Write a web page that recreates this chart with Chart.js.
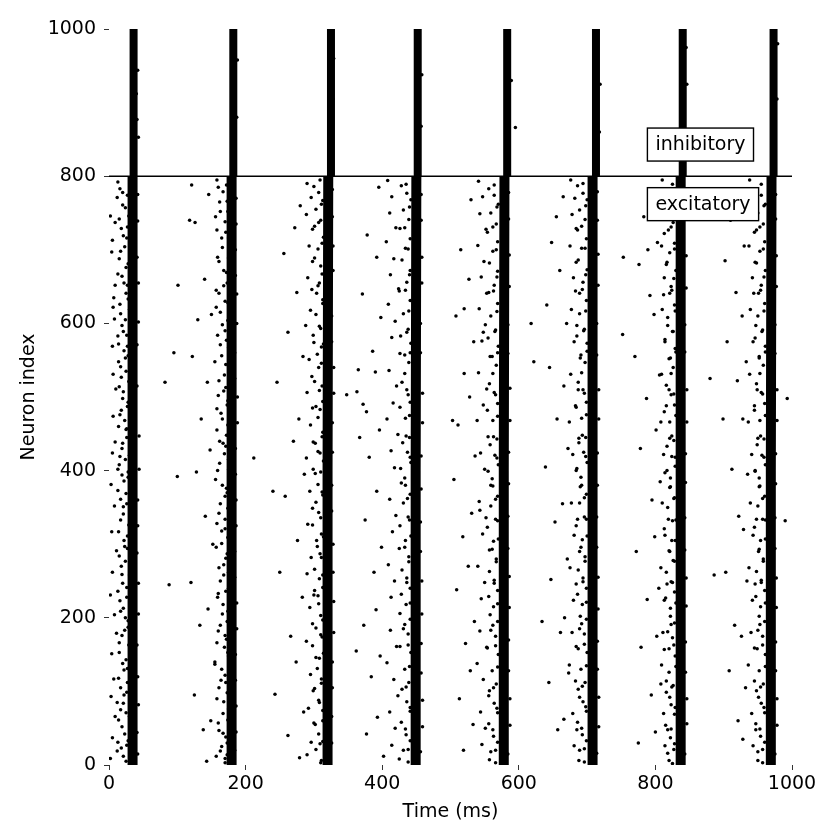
<!DOCTYPE html>
<html>
<head>
<meta charset="utf-8">
<script src="https://cdn.jsdelivr.net/npm/chart.js@4.4.1/dist/chart.umd.min.js"></script>
<style>html,body{margin:0;padding:0;background:#fff}</style>
</head>
<body>
<canvas id="raster" width="840" height="840"></canvas>
<script>
// tick values
const xTickValues = [0, 200, 400, 600, 800, 1000];
const yTickValues = [0, 200, 400, 600, 800, 1000];

// dense part of each population burst: [time ms, neuron index] along the stripe
const excCoreLines = [
    [[35, 0], [35, 400], [34, 800]],
    [[180, 0], [179, 400], [180, 800]],
    [[320, 0], [320, 400], [321, 800]],
    [[449, 0], [449, 400], [450, 800]],
    [[578, 0], [578, 400], [579, 800]],
    [[708, 0], [708, 400], [708, 800]],
    [[837, 0], [837, 400], [837, 800]],
    [[969, 0], [969, 400], [970, 800]],
];
const inhCoreLines = [
    [[36, 800], [36, 1000]],
    [[182, 800], [182, 1000]],
    [[325, 800], [325, 1000]],
    [[452, 800], [452, 1000]],
    [[583, 800], [583, 1000]],
    [[713, 800], [713, 1000]],
    [[840, 800], [840, 1000]],
    [[973, 800], [973, 1000]],
];

// single spikes around each burst: [time ms, neuron index]
const burst1Spikes = [
    [2,746],[5,713],[9,737],[4,697],[12,771],[9,652],[7,635],[6,622],[8,606],[5,569],[6,531],[10,511],[6,474],[9,439],[5,424],[3,381],[8,352],[4,317],[11,291],[5,262],[2,231],[8,204],[11,179],[4,151],[7,117],[3,93],[9,66],[5,37],[12,19],[2,9],[14,548],[13,402],[12,85],
    [16,783],[20,761],[18,729],[23,704],[15,688],[19,664],[25,641],[17,613],[21,589],[14,572],[24,553],[18,527],[20,498],[16,476],[25,456],[19,430],[15,408],[22,386],[17,361],[21,341],[14,317],[23,297],[18,270],[20,247],[16,223],[24,200],[19,176],[15,153],[22,129],[17,105],[21,84],[14,61],[23,42],[18,23],[25,5],
    [27,774],[29,746],[26,716],[28,681],[27,652],[30,619],[26,584],[28,556],[29,521],[27,487],[26,457],[30,421],[28,391],[26,355],[29,326],[27,294],[30,258],[26,228],[28,196],[29,163],[27,131],[26,99],[30,66],[28,33],
    [42,775],[41,690],[43,602],[41,515],[44,447],[42,360],[41,288],[43,205],[42,120],[41,44],
    [42,944],[41,877],[43,853],[40,912],
];
const burst1Band = [
    [13,792],[20,778],[24,757],[15,742],[27,731],[21,719],[17,698],[25,676],[13,667],[22,655],[28,633],[16,626],[24,605],[19,597],[13,583],[27,569],[22,563],[17,541],[25,535],[15,514],[21,507],[28,493],[18,482],[23,468],[14,460],[26,445],[20,437],[16,419],[24,415],[28,398],[19,394],[13,373],[25,369],[21,351],[17,333],[27,311],[22,305],[15,284],[24,277],[19,259],[26,241],[13,236],[21,213],[17,209],[28,187],[23,183],[15,166],[25,143],[20,138],[14,118],[27,112],[22,95],[17,75],[25,71],[19,52],[13,31],[26,27],[21,12],
    [42,739],[43,655],[41,571],[44,402],[42,325],[43,247],[41,163],[43,82],[42,15],
];
const burst2Spikes = [
    [95,560],[118,740],[121,788],[126,737],[130,605],[122,555],[140,660],[135,470],[128,398],[141,338],[120,248],[133,190],[125,95],[138,48],[146,775],[150,612],[144,520],[148,428],[152,300],[145,212],[155,140],[149,60],[143,5],
    [158,795],[162,765],[156,745],[165,716],[159,690],[168,672],[161,641],[157,622],[166,598],[163,571],[155,548],[169,530],[160,502],[164,478],[158,455],[167,437],[162,410],[156,388],[170,365],[161,342],[165,318],[157,296],[168,272],[163,250],[159,228],[166,205],[160,182],[169,160],[155,137],[164,115],[158,90],[167,70],[161,47],[165,25],[157,12],[170,3],
    [172,788],[174,752],[171,724],[175,689],[173,655],[170,630],[174,604],[172,577],[175,541],[171,513],[173,489],[174,462],[171,433],[175,401],[172,376],[174,349],[170,321],[173,287],[175,262],[171,236],[174,209],[172,171],[175,148],[170,122],[173,98],[174,61],[171,38],[173,14],
    [186,770],[185,700],[187,640],[184,560],[188,500],[185,430],[186,360],[184,290],[187,220],[185,150],[186,80],[184,20],
    [188,958],[187,880],
];
const burst2Band = [
    [160,785],[167,779],[173,766],[163,752],[170,738],[158,727],[175,716],[166,703],[161,684],[172,669],[168,651],[157,645],[174,628],[163,615],[170,590],[159,584],[175,567],[165,556],[171,544],[161,522],[168,508],[174,495],[158,484],[166,470],[172,448],[162,440],[169,423],[175,415],[159,400],[166,380],[173,370],[163,355],[170,334],[158,328],[174,309],[165,301],[171,281],[161,268],[168,258],[175,240],[160,233],[167,218],[173,195],[163,190],[170,176],[158,166],[174,153],[165,130],[171,112],[161,105],[168,86],[175,76],[160,57],[167,43],[173,30],[163,19],[170,9],
    [186,735],[185,665],[187,600],[184,525],[188,465],[185,395],[186,325],[184,255],[187,185],[185,115],[186,45],
];
const burst3Spikes = [
    [272,730],[256,695],[262,588],[246,520],[270,440],[258,365],[250,262],[266,175],[243,96],[262,40],[280,760],[275,642],[284,555],[278,470],[286,395],[276,305],[283,228],[274,140],[285,72],[279,10],
    [290,790],[296,771],[289,748],[301,732],[293,705],[298,684],[291,662],[304,641],[295,618],[288,597],[300,574],[293,551],[297,528],[290,506],[303,487],[295,462],[299,439],[289,417],[302,396],[294,372],[298,349],[291,327],[304,305],[296,282],[290,260],[301,237],[294,214],[298,192],[289,168],[303,146],[295,123],[299,101],[292,77],[302,55],[296,31],[290,14],
    [309,795],[311,762],[307,737],[312,709],[310,678],[306,651],[313,627],[308,596],[311,568],[307,540],[312,515],[309,483],[313,452],[306,426],[310,398],[312,371],[307,343],[311,314],[309,287],[313,258],[306,230],[310,203],[312,174],[308,145],[311,117],[307,88],[313,60],[309,29],[311,6],
    [327,782],[328,705],[326,610],[329,540],[327,465],[326,380],[328,300],[329,222],[327,140],[326,66],
    [328,905],[327,850],[329,960],
];
const burst3Band = [
    [300,786],[307,778],[313,767],[303,755],[310,740],[298,728],[314,717],[306,701],[301,689],[312,667],[308,655],[297,646],[313,632],[303,612],[310,593],[299,584],[314,572],[305,558],[311,546],[301,521],[308,509],[313,494],[298,485],[306,472],[312,446],[302,437],[309,424],[314,413],[299,402],[306,381],[313,367],[303,357],[310,336],[298,326],[314,310],[305,297],[311,282],[301,266],[308,253],[313,241],[300,231],[307,219],[313,197],[303,186],[310,177],[298,162],[314,152],[305,131],[311,111],[301,104],[308,85],[313,74],[300,57],[307,42],[313,32],[303,21],[310,3],
    [327,745],[328,672],[326,575],[329,505],[327,425],[326,345],[328,262],[329,180],[327,105],[326,30],
];
const burst4Spikes = [
    [378,720],[371,640],[386,562],[372,490],[381,418],[375,333],[388,262],[373,190],[384,120],[377,42],[395,785],[392,690],[398,608],[390,534],[396,455],[392,372],[399,296],[391,211],[397,148],[393,65],[367,445],[402,12],
    [408,794],[414,772],[411,750],[420,730],[406,711],[417,688],[412,666],[424,647],[409,626],[419,603],[414,581],[426,559],[410,536],[421,515],[416,492],[407,470],[423,449],[413,427],[418,404],[428,383],[411,361],[420,339],[415,317],[425,294],[409,272],[418,250],[413,228],[426,206],[412,183],[421,161],[407,139],[417,116],[423,94],[411,72],[419,50],[414,27],[425,8],
    [435,789],[440,758],[433,730],[438,701],[441,672],[434,645],[439,617],[436,588],[441,560],[433,532],[438,503],[440,475],[435,447],[441,418],[433,390],[437,362],[440,333],[434,305],[439,276],[436,248],[441,220],[433,191],[438,163],[440,134],[435,106],[441,78],[434,49],[438,21],
    [457,775],[458,690],[456,600],[459,505],[457,420],[456,330],[458,250],[457,165],[459,88],[456,18],
    [458,938],[457,868],
];
const burst4Band = [
    [428,787],[436,777],[442,768],[431,754],[439,741],[426,729],[441,715],[434,702],[429,686],[440,666],[436,656],[425,644],[441,631],[431,613],[438,592],[427,583],[442,573],[433,557],[439,547],[429,520],[436,510],[441,493],[426,486],[434,471],[440,445],[430,438],[437,425],[442,411],[427,403],[434,380],[441,368],[431,356],[438,337],[426,325],[442,311],[433,296],[439,283],[429,265],[436,254],[441,240],[428,232],[435,218],[441,198],[431,185],[438,178],[426,161],[442,153],[433,130],[439,112],[429,103],[436,86],[441,73],[428,58],[435,41],[441,33],[431,20],[438,4],
    [457,740],[458,655],[456,560],[459,465],[457,375],[456,290],[458,205],[457,125],[459,52],
];
const burst5Spikes = [
    [515,700],[508,610],[520,532],[511,462],[505,388],[518,310],[509,238],[522,165],[513,90],[519,20],[530,768],[527,660],[534,575],[528,500],[536,420],[531,342],[526,270],[535,195],[529,128],[533,55],[548,588],[543,346],
    [541,793],[547,772],[543,749],[552,728],[540,706],[549,684],[545,663],[556,642],[542,620],[551,598],[546,576],[558,555],[541,533],[553,511],[548,489],[539,468],[555,446],[544,424],[550,402],[559,380],[542,358],[552,336],[547,314],[557,292],[540,270],[550,248],[545,226],[558,204],[543,182],[553,160],[539,138],[548,116],[556,94],[544,72],[551,50],[546,28],[557,7],
    [564,788],[568,758],[562,731],[567,700],[569,671],[563,644],[568,616],[565,589],[569,560],[562,532],[566,503],[569,474],[563,446],[568,417],[561,389],[566,361],[569,332],[563,304],[567,276],[564,247],[569,219],[562,190],[566,162],[569,133],[563,105],[568,77],[562,48],[566,20],
    [585,778],[586,693],[584,598],[587,512],[585,425],[584,338],[586,256],[585,170],[587,90],[584,15],
    [595,866],[589,930],
];
const burst5Band = [
    [556,783],[564,774],[570,762],[559,750],[567,735],[554,724],[569,711],[562,698],[557,682],[568,663],[564,652],[553,641],[569,627],[559,610],[566,591],[555,580],[570,569],[561,555],[567,543],[557,518],[564,506],[569,491],[554,482],[562,468],[568,443],[558,435],[565,421],[570,408],[555,399],[562,379],[569,365],[559,352],[566,334],[554,323],[570,307],[561,293],[567,280],[557,263],[564,251],[569,237],[556,229],[563,215],[569,195],[559,183],[566,175],[554,159],[570,150],[561,128],[567,110],[557,101],[564,84],[569,71],[556,56],[563,39],[569,31],[559,18],[566,3],
    [585,742],[586,650],[584,559],[587,468],[585,382],[584,294],[586,214],[585,128],[587,54],
];
const burst6Spikes = [
    [655,745],[648,710],[641,625],[660,672],[645,540],[656,470],[639,405],[653,330],[647,252],[661,180],[644,112],[657,48],[665,772],[670,600],[666,515],[672,430],[664,355],[671,280],[667,200],[673,125],[666,62],[634,195],
    [676,795],[682,770],[678,748],[686,727],[675,705],[684,683],[680,662],[689,641],[677,619],[685,597],[681,575],[690,553],[676,531],[687,510],[683,488],[674,466],[688,444],[679,422],[684,400],[690,378],[677,356],[686,334],[681,312],[689,290],[675,268],[684,246],[680,224],[690,202],[678,180],[687,158],[674,136],[683,114],[689,92],[679,70],[685,48],[681,26],[688,6],
    [694,790],[698,760],[692,732],[697,702],[700,673],[693,646],[698,617],[695,590],[700,562],[692,533],[696,505],[699,476],[693,448],[698,419],[691,391],[696,363],[699,334],[693,306],[697,277],[694,249],[699,221],[692,192],[696,164],[699,135],[693,107],[698,79],[692,50],[696,22],
    [715,779],[716,694],[714,600],[717,510],[715,424],[714,337],[716,255],[715,168],[717,92],[714,16],
    [719,925],[718,860],
];
const burst6Band = [
    [686,787],[694,777],[700,768],[689,754],[697,741],[684,729],[699,715],[692,702],[687,686],[698,666],[694,656],[683,644],[699,631],[689,613],[696,592],[685,583],[700,573],[691,557],[697,547],[687,520],[694,510],[699,493],[684,486],[692,471],[698,445],[688,438],[695,425],[700,411],[685,403],[692,380],[699,368],[689,356],[696,337],[684,325],[700,311],[691,296],[697,283],[687,265],[694,254],[699,240],[686,232],[693,218],[699,198],[689,185],[696,178],[684,161],[700,153],[691,130],[697,112],[687,103],[694,86],[699,73],[686,58],[693,41],[699,33],[689,20],[696,4],
    [715,740],[716,652],[714,557],[717,470],[715,380],[714,296],[716,212],[715,130],[717,52],
];
const burst7Spikes = [
    [783,745],[776,680],[792,638],[770,555],[787,498],[778,430],[795,360],[772,290],[788,225],[779,160],[794,95],[775,30],[800,772],[803,710],[798,612],[806,530],[801,455],[807,385],[799,310],[805,240],[802,175],[808,110],[800,45],
    [810,795],[815,770],[811,748],[819,727],[809,705],[817,683],[813,662],[821,641],[810,619],[818,597],[814,575],[822,553],[809,531],[820,510],[816,488],[808,466],[821,444],[812,422],[817,400],[822,378],[810,356],[819,334],[814,312],[821,290],[808,268],[817,246],[813,224],[822,202],[811,180],[820,158],[809,136],[816,114],[821,92],[812,70],[818,48],[814,26],[820,6],
    [825,789],[829,760],[823,731],[828,701],[830,672],[824,645],[829,617],[826,589],[830,561],[823,532],[827,504],[830,475],[824,447],[829,418],[822,390],[827,362],[830,333],[824,305],[828,277],[825,248],[830,220],[823,191],[827,163],[830,134],[824,106],[829,78],[823,49],[827,21],
    [844,775],[845,692],[843,598],[846,510],[844,423],[843,336],[845,254],[844,167],[846,90],[843,15],
    [846,925],[845,975],
];
const burst7Band = [
    [815,781],[823,772],[829,760],[818,748],[826,737],[813,722],[828,709],[821,696],[816,680],[827,661],[823,650],[812,639],[828,625],[818,608],[825,589],[814,578],[829,566],[820,552],[826,540],[816,516],[823,503],[828,489],[813,480],[821,466],[827,441],[817,433],[824,419],[829,406],[814,397],[821,377],[828,363],[818,350],[825,332],[813,321],[829,305],[820,291],[826,278],[816,262],[823,249],[828,235],[815,227],[822,213],[828,193],[818,181],[825,173],[813,157],[829,148],[820,126],[826,108],[816,99],[823,82],[828,69],[815,54],[822,37],[828,29],[818,16],[825,2],
    [844,744],[845,648],[843,561],[846,466],[844,384],[843,292],[845,216],[844,126],[846,56],
];
const burst8Spikes = [
    [910,740],[902,685],[918,642],[905,575],[920,522],[899,470],[912,402],[922,338],[903,262],[916,190],[908,128],[921,60],[925,770],[930,705],[927,610],[933,548],[928,470],[935,395],[929,320],[934,250],[926,175],[932,105],[928,35],
    [938,795],[944,770],[940,748],[948,727],[937,705],[946,683],[942,662],[951,641],[939,619],[947,597],[943,575],[952,553],[938,531],[949,510],[945,488],[936,466],[950,444],[941,422],[946,400],[952,378],[939,356],[948,334],[943,312],[951,290],[937,268],[946,246],[942,224],[952,202],[940,180],[949,158],[936,136],[945,114],[951,92],[941,70],[947,48],[943,26],[950,6],
    [955,789],[959,760],[953,731],[958,701],[961,672],[954,645],[959,617],[956,589],[961,561],[953,532],[957,504],[961,475],[954,447],[959,418],[952,390],[957,362],[961,333],[954,305],[958,277],[955,248],[961,220],[953,191],[957,163],[961,134],[954,106],[959,78],[953,49],[957,21],
    [976,775],[977,692],[975,598],[978,510],[976,423],[975,336],[977,254],[976,167],[978,90],[975,15],
    [979,980],[978,905],
];
const burst8Band = [
    [947,783],[955,774],[961,762],[950,750],[958,735],[945,724],[960,711],[953,698],[948,682],[959,663],[955,652],[944,641],[960,627],[950,610],[957,591],[946,580],[961,569],[952,555],[958,543],[948,518],[955,506],[960,491],[945,482],[953,468],[959,443],[949,435],[956,421],[961,408],[946,399],[953,379],[960,365],[950,352],[957,334],[945,323],[961,307],[952,293],[958,280],[948,263],[955,251],[960,237],[947,229],[954,215],[960,195],[950,183],[957,175],[945,159],[961,150],[952,128],[958,110],[948,101],[955,84],[960,71],[947,56],[954,39],[960,31],[950,18],[957,3],
    [976,742],[977,650],[975,559],[978,468],[976,382],[975,294],[977,214],[976,128],[978,54],
];
const straySpikes = [
    [82,520],[101,652],[88,245],[100,392],[212,417],[240,372],[348,503],[363,507],[365,537],[362,155],[377,480],
    [503,468],[520,620],[618,600],[622,548],[752,585],[753,690],[789,700],[880,525],[886,258],[990,332],[993,498],
];

// population separator and labels
const separatorLevel = 800;
const populationLabels = ["inhibitory", "excitatory"];
const populationLabelAnchors = [[800, 843], [800, 762]];

const fontFamily = "'DejaVu Sans', sans-serif";

function toPoints(pairs) {
    return pairs.map(function (p) { return { x: p[0], y: p[1] }; });
}

function joinLines(lines) {
    const out = [];
    lines.forEach(function (line, i) {
        if (i > 0) out.push({ x: line[0][0], y: null });
        out.push(...toPoints(line));
    });
    return out;
}

const allSpikes = [].concat(
    burst1Spikes, burst1Band, burst2Spikes, burst2Band, burst3Spikes, burst3Band,
    burst4Spikes, burst4Band, burst5Spikes, burst5Band, burst6Spikes, burst6Band,
    burst7Spikes, burst7Band, burst8Spikes, burst8Band, straySpikes
);

const labelBoxes = {
    id: "labelBoxes",
    afterDraw(chart) {
        const { ctx, scales } = chart;
        ctx.save();
        ctx.font = "19px " + fontFamily;
        populationLabels.forEach(function (text, i) {
            const px = scales.x.getPixelForValue(populationLabelAnchors[i][0]);
            const py = scales.y.getPixelForValue(populationLabelAnchors[i][1]);
            const w = ctx.measureText(text).width;
            const padX = 8, h = 33;
            ctx.fillStyle = "#fff";
            ctx.fillRect(px - padX, py - h / 2, w + 2 * padX, h);
            ctx.strokeStyle = "#000";
            ctx.lineWidth = 1.4;
            ctx.strokeRect(px - padX, py - h / 2, w + 2 * padX, h);
            ctx.fillStyle = "#000";
            ctx.textBaseline = "middle";
            ctx.fillText(text, px, py + 1);
        });
        ctx.restore();
    },
};

document.addEventListener("DOMContentLoaded", function () {
    const ctx = document.getElementById("raster");

    new Chart(ctx, {
        type: "scatter",
        data: {
            datasets: [
                {
                    label: "separator",
                    data: [{ x: 0, y: separatorLevel }, { x: 1000, y: separatorLevel }],
                    showLine: true,
                    borderColor: "#000",
                    borderWidth: 1.4,
                    pointRadius: 0,
                },
                {
                    label: "spikes",
                    data: toPoints(allSpikes),
                    backgroundColor: "#000",
                    borderWidth: 0,
                    pointRadius: 1.75,
                },
                {
                    label: "inhibitory burst",
                    data: joinLines(inhCoreLines),
                    showLine: true,
                    spanGaps: false,
                    borderColor: "#000",
                    borderWidth: 8,
                    pointRadius: 0,
                },
                {
                    label: "excitatory burst",
                    data: joinLines(excCoreLines),
                    showLine: true,
                    spanGaps: false,
                    borderColor: "#000",
                    borderWidth: 10,
                    pointRadius: 0,
                },
            ],
        },
        options: {
            responsive: false,
            animation: false,
            devicePixelRatio: 1,
            layout: { padding: { top: 29, right: 48, left: 0, bottom: 0 } },
            plugins: {
                legend: { display: false },
                tooltip: { enabled: false },
            },
            scales: {
                x: {
                    type: "linear",
                    min: 0,
                    max: 1000,
                    afterBuildTicks: function (s) { s.ticks = xTickValues.map(function (v) { return { value: v }; }); },
                    afterFit: function (s) { s.height = 75; },
                    grid: { display: true, drawOnChartArea: false, drawTicks: true, tickLength: 5, tickColor: "#333", tickWidth: 1 },
                    border: { display: false },
                    ticks: { color: "#000", font: { family: fontFamily, size: 19 }, padding: 3, maxRotation: 0, callback: function (v) { return String(v); } },
                    title: { display: true, text: "Time (ms)", color: "#000", font: { family: fontFamily, size: 19 }, padding: { top: 0, bottom: 17 } },
                },
                y: {
                    type: "linear",
                    min: 0,
                    max: 1000,
                    afterBuildTicks: function (s) { s.ticks = yTickValues.map(function (v) { return { value: v }; }); },
                    afterFit: function (s) { s.width = 109; },
                    grid: { display: true, drawOnChartArea: false, drawTicks: true, tickLength: 5, tickColor: "#333", tickWidth: 1 },
                    border: { display: false },
                    ticks: { color: "#000", font: { family: fontFamily, size: 19 }, padding: 8, callback: function (v) { return String(v); } },
                    title: { display: true, text: "Neuron index", color: "#000", font: { family: fontFamily, size: 19 }, padding: { top: 18, bottom: 0 } },
                },
            },
        },
        plugins: [labelBoxes],
    });
});
</script>
</body>
</html>
